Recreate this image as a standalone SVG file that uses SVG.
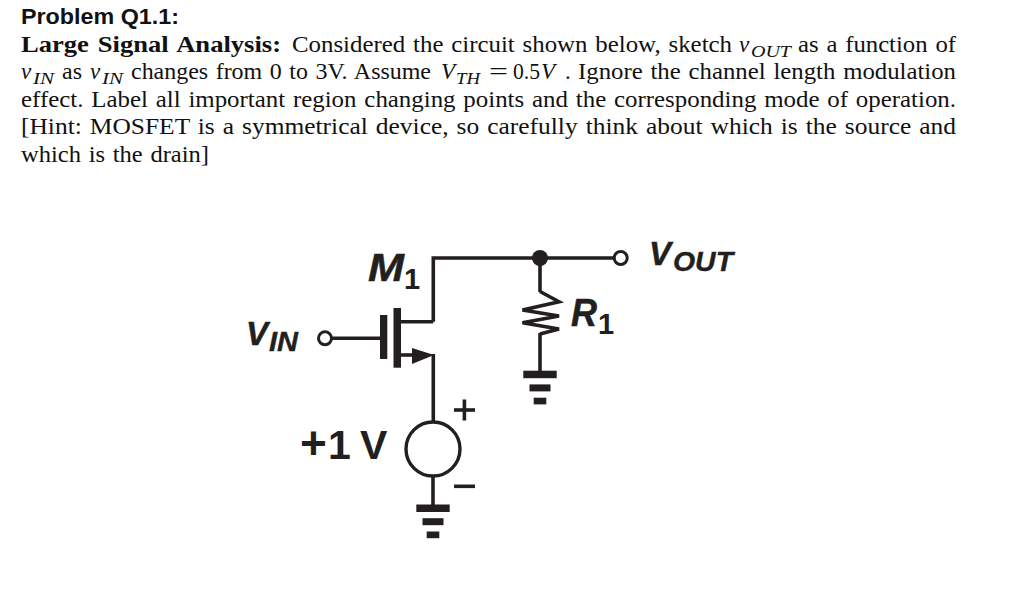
<svg xmlns="http://www.w3.org/2000/svg" width="1009" height="603" viewBox="0 0 1009 603">
<style>
text{fill:#111}
.h{font:bold 22px "Liberation Sans",Arial,sans-serif}
.t{font:23px "Liberation Serif","Times New Roman",serif;word-spacing:1.5px}
.b{font:bold 23px "Liberation Serif","Times New Roman",serif;word-spacing:2px}
.i{font:italic 23px "Liberation Serif","Times New Roman",serif}
.s{font:italic 16px "Liberation Serif","Times New Roman",serif}
.l{font:italic bold 39px "Liberation Sans",Arial,sans-serif;fill:#231f20;stroke:#231f20;stroke-width:.5}
.ls{font:italic bold 28px "Liberation Sans",Arial,sans-serif;fill:#231f20;stroke:#231f20;stroke-width:.4}
.n{font:bold 29px "Liberation Sans",Arial,sans-serif;fill:#231f20}
.lu{font:bold 41px "Liberation Sans",Arial,sans-serif;fill:#231f20}
.w{fill:none;stroke:#231f20;stroke-width:3.6;stroke-linejoin:miter}
.k{fill:#231f20;stroke:none}
.o{fill:#fff;stroke:#231f20;stroke-width:3}
</style>
<defs>
<g id="gnd" class="k"><rect x="-16.7" y="0" width="33.4" height="7.5"/><rect x="-10.5" y="13.7" width="21" height="7"/><rect x="-6.3" y="27" width="12.6" height="6.7"/></g>
</defs>
<g id="problem-text">
<text class="h" x="21" y="24" textLength="158" lengthAdjust="spacingAndGlyphs">Problem Q1.1:</text>
<text class="b" x="21" y="52" textLength="260" lengthAdjust="spacingAndGlyphs">Large Signal Analysis:</text>
<text class="t" x="292" y="52" textLength="440" lengthAdjust="spacingAndGlyphs">Considered the circuit shown below, sketch</text>
<text class="i" x="739" y="52">v</text><text class="s" x="751" y="57" textLength="40" lengthAdjust="spacingAndGlyphs">OUT</text>
<text class="t" x="798" y="52" textLength="158" lengthAdjust="spacingAndGlyphs">as a function of</text>
<text class="i" x="21" y="79">v</text><text class="s" x="33" y="84" textLength="21" lengthAdjust="spacingAndGlyphs">IN</text>
<text class="t" x="62" y="79" textLength="20" lengthAdjust="spacingAndGlyphs">as</text>
<text class="i" x="90" y="79">v</text><text class="s" x="102" y="84" textLength="21" lengthAdjust="spacingAndGlyphs">IN</text>
<text class="t" x="131" y="79" textLength="300" lengthAdjust="spacingAndGlyphs">changes from 0 to 3V. Assume</text>
<text class="i" x="441" y="79">V</text><text class="s" x="456" y="84" textLength="24" lengthAdjust="spacingAndGlyphs">TH</text>
<text class="t" x="489" y="79" textLength="19" lengthAdjust="spacingAndGlyphs">=</text>
<text class="t" x="513" y="79" textLength="27" lengthAdjust="spacingAndGlyphs">0.5</text>
<text class="i" x="541" y="79">V</text>
<text class="t" x="565" y="79">.</text>
<text class="t" x="578" y="79" textLength="378" lengthAdjust="spacingAndGlyphs">Ignore the channel length modulation</text>
<text class="t" x="21" y="107" textLength="935" lengthAdjust="spacingAndGlyphs">effect. Label all important region changing points and the corresponding mode of operation.</text>
<text class="t" x="21" y="134" textLength="935" lengthAdjust="spacingAndGlyphs">[Hint: MOSFET is a symmetrical device, so carefully think about which is the source and</text>
<text class="t" x="21" y="162" textLength="188" lengthAdjust="spacingAndGlyphs">which is the drain]</text>
</g>
<g id="connectors">
<path class="w" d="M433.3 321.7V258H614"/>
<path class="w" d="M400 321.7H433.3"/>
<path class="w" d="M331 338.3H380"/>
<path class="w" d="M400 355H416"/>
<path class="w" d="M433.3 354V422"/>
<path class="w" d="M433 476V505"/>
<path class="w" d="M540 258V292"/>
<path class="w" d="M540 333V371"/>
</g>
<g id="M1">
<rect class="k" x="380" y="315" width="7.3" height="44"/>
<rect class="k" x="393.5" y="308" width="7.5" height="59.7"/>
<polygon class="k" points="434,355 412,348 412,364"/>
<text class="l" x="368" y="281" textLength="36" lengthAdjust="spacingAndGlyphs">M</text>
<text class="n" x="404" y="289">1</text>
</g>
<g id="VIN">
<circle class="o" cx="325" cy="338.3" r="6.5"/>
<text class="l" x="246" y="345" style="font-size:33px">V</text>
<text class="ls" x="269" y="351" textLength="29" lengthAdjust="spacingAndGlyphs">IN</text>
</g>
<g id="VOUT">
<circle class="o" cx="620.7" cy="258" r="6.5"/>
<circle class="k" cx="540" cy="258" r="8"/>
<text class="l" x="649" y="265" style="font-size:33px">V</text>
<text class="ls" x="673" y="271" textLength="60" lengthAdjust="spacingAndGlyphs">OUT</text>
</g>
<g id="R1">
<polyline class="w" points="540,291.5 559,301.7 522.5,310 559,316 522.5,322.7 559,329 540,334"/>
<text class="l" x="571" y="326" textLength="26" lengthAdjust="spacingAndGlyphs" style="font-size:38px">R</text>
<text class="n" x="598" y="334">1</text>
<use href="#gnd" x="540" y="370.7"/>
</g>
<g id="V1">
<circle cx="433" cy="449" r="27" fill="none" stroke="#231f20" stroke-width="3.4"/>
<text class="lu" y="459"><tspan x="300" style="font-size:46px">+</tspan><tspan x="328">1</tspan><tspan x="359"> </tspan><tspan x="360">V</tspan></text>
<rect class="k" x="454" y="408.2" width="21" height="3.6"/>
<rect class="k" x="462.6" y="399.5" width="3.6" height="21"/>
<rect class="k" x="454" y="484.5" width="21" height="3.6"/>
<use href="#gnd" x="433" y="504.5"/>
</g>
</svg>
